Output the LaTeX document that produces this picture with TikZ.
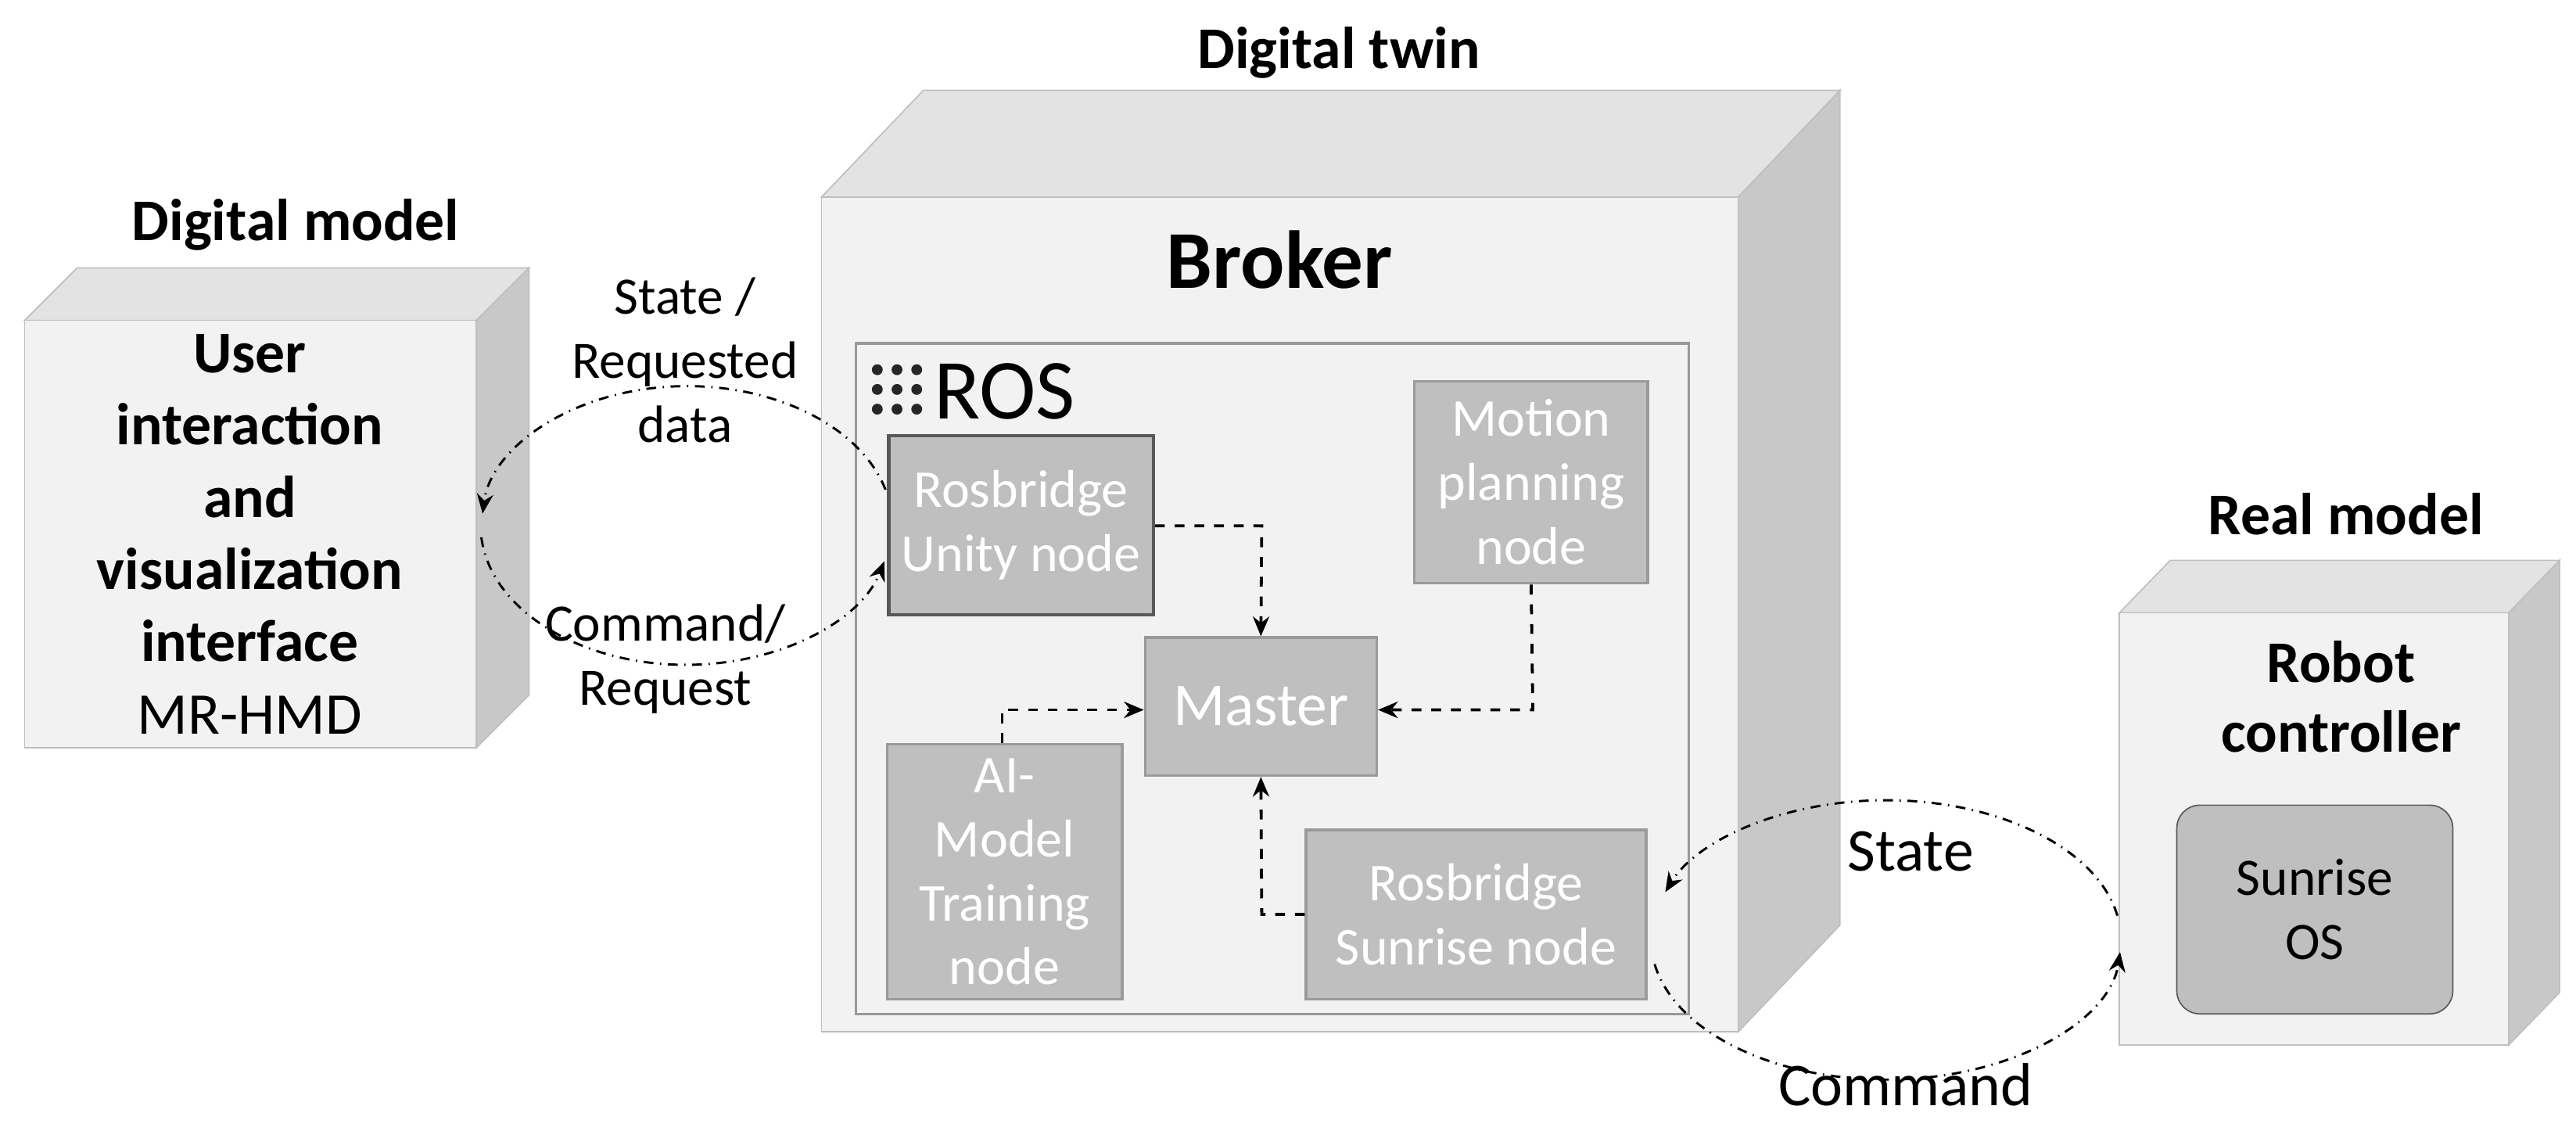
\documentclass[tikz,border=0pt]{standalone}
\usepackage{fontspec}
\setmainfont{Carlito}
\usetikzlibrary{arrows.meta}
\definecolor{frontc}{HTML}{F2F2F2}
\definecolor{sidec}{HTML}{C8C8C8}
\definecolor{topc}{HTML}{E3E3E3}
\definecolor{edgec}{HTML}{BFBFBF}
\definecolor{nodec}{HTML}{BFBFBF}
\definecolor{nodeb}{HTML}{9A9A9A}
\begin{document}
\begin{tikzpicture}[x=0.5pt,y=-0.5pt,
  rnode/.style={draw=nodeb,line width=0.8pt,fill=nodec,text=white,align=center,font=\fontsize{16.2}{19.5}\selectfont,inner sep=0pt},
  dasharr/.style={dashed,line width=0.9pt,-{Stealth[length=6pt,width=5pt]}},
  dd/.style={dash dot,line width=0.7pt,-{Stealth[length=6pt,width=5pt]}},
  btitle/.style={font=\bfseries\fontsize{18}{20}\selectfont},
  lbl/.style={font=\fontsize{16}{19.5}\selectfont,align=center}]
\useasboundingbox (0,0) rectangle (1568,684);
\foreach \xa/\ya/\xb/\yb/\dx/\dy in {15/195/290/455/32/-32, 500/120/1058/628/62/-65, 1290/373/1527/636/31/-32}{
  \fill[topc,draw=edgec] (\xa,\ya) -- (\xa+\dx,\ya+\dy) -- (\xb+\dx,\ya+\dy) -- (\xb,\ya) -- cycle;
  \fill[sidec,draw=edgec] (\xb,\ya) -- (\xb+\dx,\ya+\dy) -- (\xb+\dx,\yb+\dy) -- (\xb,\yb) -- cycle;
  \fill[frontc,draw=edgec] (\xa,\ya) rectangle (\xb,\yb);
}
\node[btitle] (tdm) at (180,137) {Digital model};
\node[btitle] (tdt) at (815,32) {Digital twin};
\node[btitle] (trm) at (1428,313) {Real model};
\node[font=\fontsize{18}{22}\selectfont,align=center] (ui) at (152,325)
  {\textbf{User}\\\textbf{interaction}\\\textbf{and}\\\textbf{visualization}\\\textbf{interface}\\MR-HMD};
\node[font=\bfseries\fontsize{25}{28}\selectfont] (broker) at (779,158) {Broker};
\node[font=\fontsize{18}{21}\selectfont,align=center] (rc) at (1425,424) {\textbf{Robot}\\\textbf{controller}};
\draw[edgec!80!black,line width=0.8pt,fill=frontc] (521,209) rectangle (1028,617);
\foreach \i in {0,1,2}\foreach \j in {0,1,2}{\fill[black!85] (534+\i*12,225+\j*12) circle (3.3);}
\node[font=\fontsize{26}{28}\selectfont,anchor=west,inner sep=0pt] (ros) at (568,238) {ROS};
\node[rnode,draw=gray!70!black,line width=1pt,minimum width=80.5pt,minimum height=54.5pt] (unity) at (621.5,319.5) {Rosbridge\\Unity node};
\node[rnode,minimum width=71pt,minimum height=61.5pt] (motion) at (932,293.5) {Motion\\planning\\node};
\node[rnode,minimum width=70.5pt,minimum height=42pt,font=\fontsize{18.5}{20}\selectfont] (master) at (767.5,430) {Master};
\node[rnode,minimum width=71.5pt,minimum height=77.5pt] (ai) at (611.5,530.5) {AI-\\Model\\Training\\node};
\node[rnode,minimum width=103.5pt,minimum height=51.5pt] (sunrise) at (898.5,556.5) {Rosbridge\\Sunrise node};
\node[draw=gray!70!black,fill=nodec,rounded corners=7pt,minimum width=84pt,minimum height=63.5pt,align=center,font=\fontsize{16}{19.5}\selectfont,inner sep=0pt] (os) at (1409,553.5) {Sunrise\\OS};
\draw[dasharr] (unity.east |- 0,320) -- (768,320) -- (master.north);
\draw[dasharr] (motion.south) -- (933,432) -- (master.east |- 0,432);
\draw[dasharr] (ai.north -| 610,0) -- (610,432) -- (master.west |- 0,432);
\draw[dasharr] (sunrise.west) -- (768,556.5) -- (master.south);
\coordinate (c1) at (539,298);
\coordinate (c2) at (293,327);
\draw[dd] (c1) arc[start angle=-15,end angle=-175,x radius=125,y radius=85];
\draw[dd] (c2) arc[start angle=175,end angle=15,x radius=125,y radius=85];
\node[lbl] (l1) at (417,219) {State /\\Requested\\data};
\node[lbl] (l2) at (405,401) {Command/\\Request};
\draw[dd] (1148,572) ++(-10:143 and 85) arc[start angle=-10,end angle=-160,x radius=143,y radius=85];
\draw[dd] (1148,572) ++(170:143 and 85) arc[start angle=170,end angle=5,x radius=143,y radius=85];
\node[font=\fontsize{18.5}{20}\selectfont] (ls) at (1163,518) {State};
\node[font=\fontsize{18.5}{20}\selectfont] (lc) at (1160,660) {Command};
\end{tikzpicture}
\end{document}
